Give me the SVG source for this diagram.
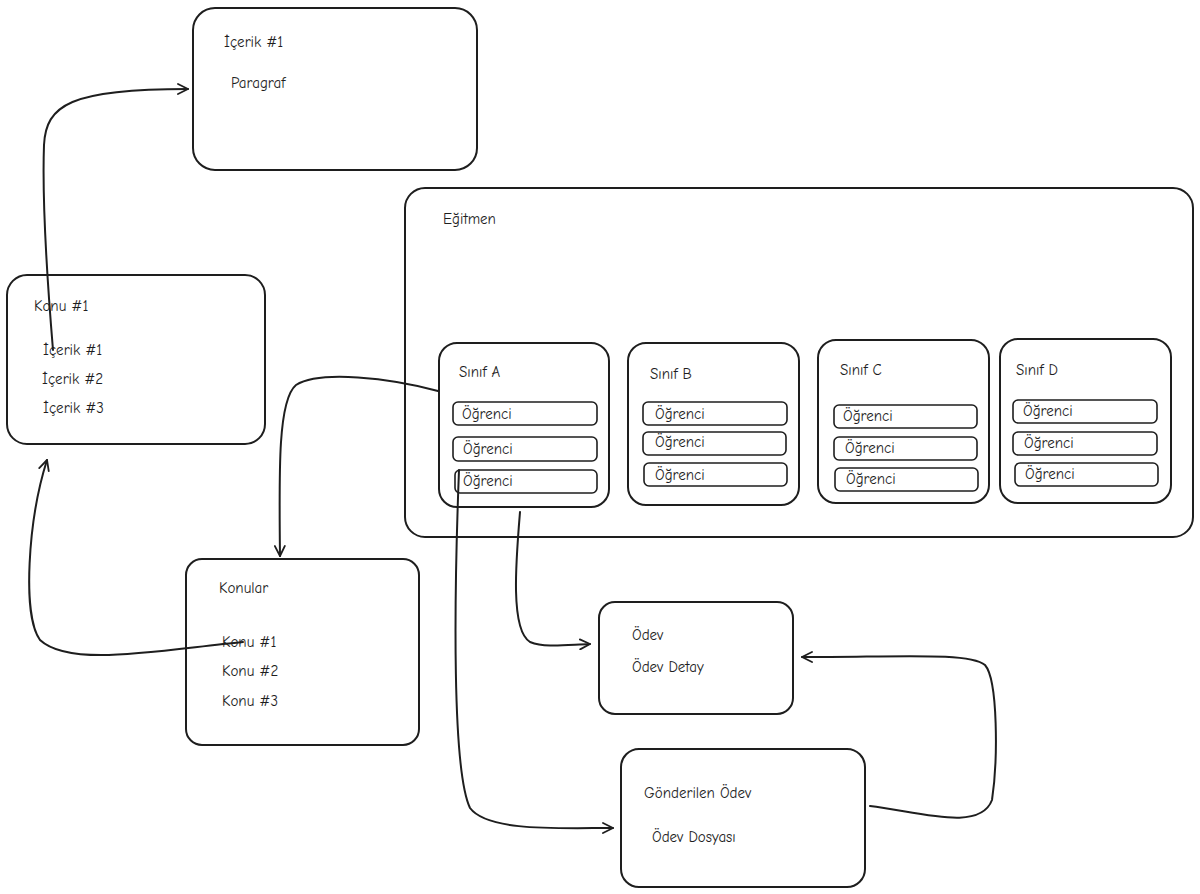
<svg xmlns="http://www.w3.org/2000/svg" width="1200" height="894" viewBox="0 0 1200 894">
<style>
.box{fill:none;stroke:#1e1e1e;stroke-width:2}
.sub{fill:none;stroke:#1e1e1e;stroke-width:1.6}
.t{font-family:"Comic Neue","Lato","Liberation Sans",sans-serif;font-size:15px;fill:#1e1e1e}
.c{fill:none;stroke:#1e1e1e;stroke-width:2;stroke-linecap:round}
</style>
<defs>
<marker id="ah" viewBox="0 0 12 12" refX="11" refY="6" markerWidth="12" markerHeight="12" markerUnits="userSpaceOnUse" orient="auto">
<path d="M1,1 L11,6 L1,11" fill="none" stroke="#1e1e1e" stroke-width="1.8" stroke-linecap="round" stroke-linejoin="round"/>
</marker>
</defs>
<rect width="1200" height="894" fill="#fff"/>
<g id="icerik1">
<rect class="box" x="193" y="8" width="284" height="162" rx="22"/>
<text class="t" x="224" y="47">İçerik #1</text>
<text class="t" x="231" y="88">Paragraf</text>
</g>
<g id="egitmen">
<rect class="box" x="405" y="188" width="788" height="349" rx="20"/>
<text class="t" x="443" y="224">Eğitmen</text>
</g>
<g id="sinifA">
<rect class="box" x="439" y="343" width="170" height="164" rx="18"/>
<text class="t" x="459" y="377">Sınıf A</text>
<rect class="sub" x="453" y="402" width="144" height="23" rx="5"/>
<text class="t" x="462" y="419">Öğrenci</text>
<rect class="sub" x="453" y="437" width="144" height="24" rx="5"/>
<text class="t" x="463" y="454">Öğrenci</text>
<rect class="sub" x="455" y="470" width="142" height="23" rx="5"/>
<text class="t" x="463" y="486">Öğrenci</text>
</g>
<g id="sinifB">
<rect class="box" x="628" y="343" width="171" height="162" rx="18"/>
<text class="t" x="650" y="379">Sınıf B</text>
<rect class="sub" x="643" y="402" width="144" height="23" rx="5"/>
<text class="t" x="655" y="419">Öğrenci</text>
<rect class="sub" x="643" y="432" width="143" height="23" rx="5"/>
<text class="t" x="655" y="447">Öğrenci</text>
<rect class="sub" x="644" y="463" width="143" height="23" rx="5"/>
<text class="t" x="655" y="480">Öğrenci</text>
</g>
<g id="sinifC">
<rect class="box" x="818" y="340" width="171" height="163" rx="18"/>
<text class="t" x="840" y="375">Sınıf C</text>
<rect class="sub" x="834" y="405" width="143" height="23" rx="5"/>
<text class="t" x="843" y="421">Öğrenci</text>
<rect class="sub" x="834" y="437" width="143" height="23" rx="5"/>
<text class="t" x="845" y="453">Öğrenci</text>
<rect class="sub" x="835" y="468" width="143" height="23" rx="5"/>
<text class="t" x="846" y="484">Öğrenci</text>
</g>
<g id="sinifD">
<rect class="box" x="1000" y="339" width="171" height="164" rx="18"/>
<text class="t" x="1016" y="375">Sınıf D</text>
<rect class="sub" x="1013" y="400" width="144" height="23" rx="5"/>
<text class="t" x="1023" y="416">Öğrenci</text>
<rect class="sub" x="1013" y="432" width="144" height="23" rx="5"/>
<text class="t" x="1024" y="448">Öğrenci</text>
<rect class="sub" x="1015" y="463" width="143" height="23" rx="5"/>
<text class="t" x="1025" y="479">Öğrenci</text>
</g>
<g id="konu1">
<rect class="box" x="7" y="275" width="258" height="169" rx="20"/>
<text class="t" x="34" y="311">Konu #1</text>
<text class="t" x="43" y="355">İçerik #1</text>
<text class="t" x="42" y="384">İçerik #2</text>
<text class="t" x="43" y="413">İçerik #3</text>
</g>
<g id="konular">
<rect class="box" x="186" y="559" width="233" height="186" rx="16"/>
<text class="t" x="219" y="593">Konular</text>
<text class="t" x="222" y="647">Konu #1</text>
<text class="t" x="222" y="676">Konu #2</text>
<text class="t" x="222" y="706">Konu #3</text>
</g>
<g id="odev">
<rect class="box" x="599" y="602" width="194" height="112" rx="16"/>
<text class="t" x="632" y="640">Ödev</text>
<text class="t" x="632" y="672">Ödev Detay</text>
</g>
<g id="gonderilen">
<rect class="box" x="621" y="749" width="244" height="138" rx="18"/>
<text class="t" x="644" y="798">Gönderilen Ödev</text>
<text class="t" x="652" y="842">Ödev Dosyası</text>
</g>
<g id="connectors">
<path class="c" marker-end="url(#ah)" d="M53,350 C48,290 42,200 44,145 C46,105 70,89 188,89"/>
<path class="c" marker-end="url(#ah)" d="M438,391 C390,378 320,370 296,385 C278,400 279,470 280,556"/>
<path class="c" marker-end="url(#ah)" d="M243,642 C160,650 70,668 40,640 C22,615 28,520 47,460"/>
<path class="c" marker-end="url(#ah)" d="M520,512 C516,560 510,630 530,642 C545,648 565,645 590,644"/>
<path class="c" marker-end="url(#ah)" d="M459,470 C454,600 452,770 470,808 C488,832 560,828 613,828"/>
<path class="c" marker-end="url(#ah)" d="M870,806 C920,812 980,832 992,800 C998,760 998,680 985,665 C970,652 900,657 802,657"/>
</g>
</svg>
